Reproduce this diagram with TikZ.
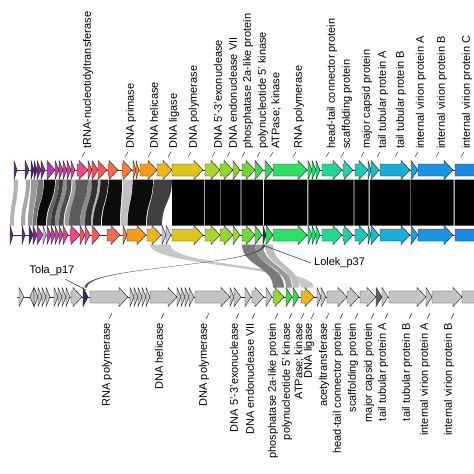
\documentclass[tikz,border=0pt]{standalone}
\usepackage{fontspec}
\setmainfont{Liberation Sans}
\newcommand\lblfont{\fontsize{11}{13}\selectfont}
\tikzset{
  genestyle/.style={draw=black!85, line width=0.45pt, line join=miter},
  toplbl/.style={rotate=90, anchor=west, inner sep=0pt, font=\lblfont, text=black},
  botlbl/.style={rotate=90, anchor=east, inner sep=0pt, font=\lblfont, text=black},
  tickln/.style={draw=black!80, line width=0.5pt},
  backbone/.style={draw=black!80, line width=0.6pt},
  leader/.style={draw=black!75, line width=0.6pt}
}
% gene arrow: x1, x2, yc, fill
\newcommand\gn[4]{%
  \pgfmathparse{(#2>#1) ? max(#1,#2-9) : min(#1,#2+9)}\let\gh\pgfmathresult
  \filldraw[genestyle, fill=#4] (#1,#3-6) -- (\gh,#3-6) -- (\gh,#3-9.5) -- (#2,#3)
     -- (\gh,#3+9.5) -- (\gh,#3+6) -- (#1,#3+6) -- cycle;}
% band: top a b, bottom c d, ytop, ybot, fill
\newcommand\band[7]{%
  \pgfmathsetmacro\ym{(#5+#6)/2}%
  \fill[#7] (#1,#5) .. controls (#1,\ym) and (#3,\ym) .. (#3,#6) -- (#4,#6)
     .. controls (#4,\ym) and (#2,\ym) .. (#2,#5) -- cycle;}
\definecolor{c1}{HTML}{5A2D86}
\definecolor{c2}{HTML}{4B2470}
\definecolor{c2b}{HTML}{7A2C8F}
\definecolor{c3}{HTML}{B73AB5}
\definecolor{c4}{HTML}{C93DAA}
\definecolor{c5}{HTML}{D8409C}
\definecolor{c6}{HTML}{E3448F}
\definecolor{c7}{HTML}{EC4A84}
\definecolor{c8}{HTML}{EF5468}
\definecolor{c9}{HTML}{F15E58}
\definecolor{c10}{HTML}{F26E4A}
\definecolor{c11}{HTML}{F47E3C}
\definecolor{c12}{HTML}{F68C2A}
\definecolor{c12b}{HTML}{F79A1E}
\definecolor{c13}{HTML}{F2B41E}
\definecolor{c14}{HTML}{DCC51E}
\definecolor{c15}{HTML}{AAD52B}
\definecolor{c16}{HTML}{92D730}
\definecolor{c17}{HTML}{72D636}
\definecolor{c18}{HTML}{44D845}
\definecolor{c19}{HTML}{2FDC58}
\definecolor{c20}{HTML}{2DE065}
\definecolor{c21}{HTML}{27DC78}
\definecolor{c22}{HTML}{22D892}
\definecolor{c23}{HTML}{20D0A6}
\definecolor{c24}{HTML}{1EC8B6}
\definecolor{c25}{HTML}{1CBCC8}
\definecolor{c26}{HTML}{1BABD4}
\definecolor{c27}{HTML}{1AA0DA}
\definecolor{c28}{HTML}{1A94DE}
\definecolor{c29}{HTML}{1A88E0}
\definecolor{lav}{HTML}{C4C4DC}
\definecolor{navy}{HTML}{2C2C6C}
\definecolor{gg}{HTML}{C4C4C4}
\definecolor{gd}{HTML}{606060}
\begin{document}
\begin{tikzpicture}[x=1pt,y=-1pt]
\useasboundingbox (0,0) rectangle (474,474);
\fill[white] (0,0) rectangle (474,474);

% ---------- bands row1 -> row2 ----------
\def\ta{179.5}\def\tb{225.5}
\band{14}{18}{10}{14}{\ta}{\tb}{black!30}
\band{26}{30}{21}{25}{\ta}{\tb}{black!35}
\band{31}{37}{28}{32.5}{\ta}{\tb}{black!40}
\band{37.5}{43.5}{33}{36.5}{\ta}{\tb}{black!55}
\band{44}{55}{37}{46}{\ta}{\tb}{black!96}
\band{55.6}{59}{47}{51}{\ta}{\tb}{black!60}
\band{59}{63}{51}{55}{\ta}{\tb}{black!76}
\band{63}{67}{55}{59}{\ta}{\tb}{black!45}
\band{67}{71.5}{59}{63.5}{\ta}{\tb}{black!70}
\band{72.5}{76}{64.5}{69}{\ta}{\tb}{black!38}
\band{76}{88}{69}{80}{\ta}{\tb}{black!64}
\band{88}{92}{80}{85}{\ta}{\tb}{black!45}
\band{92}{98}{85}{91}{\ta}{\tb}{black!80}
\band{98}{100.5}{91}{93}{\ta}{\tb}{black!30}
\band{100.5}{108}{93}{101}{\ta}{\tb}{black!88}
\band{108.6}{122}{102}{120}{\ta}{\tb}{black!95}
\band{123}{132}{121}{127}{\ta}{\tb}{black!25}
\band{132.6}{153}{127.6}{146}{\ta}{\tb}{black!95}
\band{153.6}{172}{147}{162}{\ta}{\tb}{black!75}
\band{172}{203.8}{172}{203.8}{\ta}{\tb}{black}
\band{204.6}{219.8}{204.6}{219.8}{\ta}{\tb}{black}
\band{220.3}{240.6}{220.3}{240.6}{\ta}{\tb}{black}
\band{241.4}{263.2}{241.4}{263.2}{\ta}{\tb}{black}
\band{264.2}{307.3}{264.2}{307.3}{\ta}{\tb}{black}
\band{308.3}{353.6}{308.3}{353.6}{\ta}{\tb}{black}
\band{354.3}{368.6}{354.3}{368.6}{\ta}{\tb}{black}
\band{369.6}{410.6}{369.6}{410.6}{\ta}{\tb}{black}
\band{411.2}{453.6}{411.2}{453.6}{\ta}{\tb}{black}
\band{454.6}{490}{454.6}{490}{\ta}{\tb}{black}

% ---------- bands row2 -> row3 ----------
\def\tc{244.5}\def\td{287.5}
\band{150}{170}{301}{314}{\tc}{\td}{black!22}
\band{242}{255}{273}{284}{\tc}{\td}{black!52}
\band{255}{263}{286}{292}{\tc}{\td}{black!40}
\band{265}{273}{293}{299}{\tc}{\td}{black!26}
\band{263}{265.5}{84.5}{87}{\tc}{\td}{black!70}

% ---------- backbones ----------
\draw[backbone] (14,170) -- (474,170);
\draw[backbone] (10,235) -- (474,235);
\draw[backbone] (17,297) -- (474,297);

% ---------- row 1 ----------
\def\yA{170}
\gn{14}{17}{\yA}{c1}
\gn{25}{29}{\yA}{c1}
\gn{31}{34}{\yA}{c2}
\gn{34}{37}{\yA}{c2}
\gn{37}{41}{\yA}{c2b}
\gn{41}{45}{\yA}{c2b}
\gn{47}{55}{\yA}{c3}
\gn{55}{59}{\yA}{c4}
\gn{59}{63}{\yA}{c4}
\gn{63}{67}{\yA}{c5}
\gn{67}{71}{\yA}{c5}
\gn{71}{75}{\yA}{c6}
\gn{77}{88}{\yA}{c7}
\gn{88}{92}{\yA}{c8}
\gn{92}{98}{\yA}{c8}
\gn{98}{107}{\yA}{c9}
\gn{108}{118}{\yA}{c10}
\gn{122}{132}{\yA}{c11}
\gn{133}{136}{\yA}{c11}
\gn{136}{139}{\yA}{c12}
\gn{140}{157}{\yA}{c12b}
\gn{157}{172}{\yA}{c13}
\gn{172}{203}{\yA}{c14}
\gn{205}{220}{\yA}{c15}
\gn{220}{233}{\yA}{c16}
\gn{233}{240}{\yA}{c16}
\gn{242}{255}{\yA}{c17}
\gn{255}{263}{\yA}{c18}
\gn{265}{273}{\yA}{c19}
\gn{273}{307}{\yA}{c20}
\gn{308}{312}{\yA}{c21}
\gn{312}{316}{\yA}{c21}
\gn{316}{320}{\yA}{c21}
\gn{322}{342}{\yA}{c22}
\gn{343}{353}{\yA}{c23}
\gn{355}{368}{\yA}{c24}
\gn{368}{371}{\yA}{c25}
\gn{371}{379}{\yA}{c25}
\gn{380}{410}{\yA}{c26}
\gn{411}{418}{\yA}{c27}
\gn{418}{453}{\yA}{c28}
\gn{455}{490}{\yA}{c29}

% ---------- row 2 ----------
\def\yB{235}
\gn{10}{13}{\yB}{c1}
\gn{22}{25}{\yB}{c1}
\gn{29}{33}{\yB}{c2}
\gn{33}{37}{\yB}{c2b}
\gn{37}{43}{\yB}{c3}
\gn{43}{46}{\yB}{lav}
\gn{47}{51}{\yB}{c4}
\gn{51}{55}{\yB}{c4}
\gn{55}{59}{\yB}{c5}
\gn{59}{63}{\yB}{c5}
\gn{63}{68}{\yB}{c6}
\gn{70}{80}{\yB}{c7}
\gn{80}{85}{\yB}{c8}
\gn{85}{90}{\yB}{c8}
\gn{92}{100}{\yB}{c9}
\gn{107}{120}{\yB}{c10}
\gn{123}{127}{\yB}{c11}
\gn{127}{146}{\yB}{c12b}
\gn{147}{161}{\yB}{c13}
\gn{162}{166}{\yB}{lav}
\gn{166}{171}{\yB}{lav}
\gn{172}{203}{\yB}{c14}
\gn{205}{220}{\yB}{c15}
\gn{220}{233}{\yB}{c16}
\gn{233}{240}{\yB}{c16}
\gn{242}{255}{\yB}{c17}
\gn{255}{262}{\yB}{c18}
\gn{263}{266}{\yB}{navy}
\gn{266}{273}{\yB}{c19}
\gn{273}{307}{\yB}{c20}
\gn{308}{312}{\yB}{c21}
\gn{312}{316}{\yB}{c21}
\gn{316}{320}{\yB}{c21}
\gn{322}{342}{\yB}{c22}
\gn{343}{353}{\yB}{c23}
\gn{355}{368}{\yB}{c24}
\gn{368}{371}{\yB}{c25}
\gn{371}{379}{\yB}{c25}
\gn{380}{410}{\yB}{c26}
\gn{411}{418}{\yB}{c27}
\gn{418}{453}{\yB}{c28}
\gn{455}{490}{\yB}{c29}

% ---------- row 3 ----------
\def\yC{297}
\gn{19}{24}{\yC}{gg}
\gn{34}{30}{\yC}{gg}
\gn{34}{38}{\yC}{gg}
\gn{38}{42}{\yC}{gg}
\gn{42}{46}{\yC}{gg}
\gn{46}{50}{\yC}{gg}
\gn{54}{58}{\yC}{gg}
\gn{58}{62}{\yC}{gg}
\gn{62}{66}{\yC}{gg}
\gn{66}{70}{\yC}{gg}
\gn{71}{82}{\yC}{gg}
\gn{83}{88}{\yC}{navy}
\gn{90}{128}{\yC}{gg}
\gn{130}{134}{\yC}{gg}
\gn{134}{138}{\yC}{gg}
\gn{138}{142}{\yC}{gg}
\gn{142}{146}{\yC}{gg}
\gn{146}{150}{\yC}{gg}
\gn{150}{177}{\yC}{gg}
\gn{177}{181}{\yC}{gg}
\gn{181}{185}{\yC}{gg}
\gn{185}{189}{\yC}{gg}
\gn{189}{194}{\yC}{gg}
\gn{195}{230}{\yC}{gg}
\gn{230}{234}{\yC}{gg}
\gn{234}{241}{\yC}{gg}
\gn{245}{251}{\yC}{gg}
\gn{252}{264}{\yC}{gg}
\gn{266}{272}{\yC}{gg}
\gn{273}{284}{\yC}{c16}
\gn{286}{292}{\yC}{c18}
\gn{293}{299}{\yC}{c19}
\gn{301}{314}{\yC}{c13}
\gn{317}{321}{\yC}{gg}
\gn{321}{326}{\yC}{gg}
\gn{327}{347}{\yC}{gg}
\gn{347}{359}{\yC}{gg}
\gn{360}{376}{\yC}{gg}
\gn{376}{382}{\yC}{gd}
\gn{382}{388}{\yC}{gg}
\gn{389}{426}{\yC}{gg}
\gn{426}{432}{\yC}{gg}
\gn{432}{462}{\yC}{gg}
\gn{462}{490}{\yC}{gg}

% ---------- top labels ----------
\foreach \n/\x/\t in {
  t1/88/tRNA-nucleotidyltransferase,
  t2/131/DNA primase,
  t3/154/DNA helicase,
  t4/174/DNA ligase,
  t5/194/DNA polymerase,
  t6/218/DNA 5'-3'exonuclease,
  t7/233/DNA endonuclease VII,
  t8/248/phosphatase 2a-like protein,
  t9/263/polynucleotide 5' kinase,
  t10/276/{ATPase; kinase},
  t11/299/RNA polymerase,
  t12/332/head-tail connector protein,
  t13/347/scaffolding protein,
  t14/367/major capsid protein,
  t15/383/tail tubular protein A,
  t16/401/tail tubular protein B,
  t17/421/internal virion protein A,
  t18/442/internal virion protein B,
  t19/467/internal virion protein C}{
  \node[toplbl] (\n) at (\x,149) {\t};
  \draw[tickln] (\n.west) ++(-3,3) -- ++(-3,5);
}

% ---------- bottom labels ----------
\foreach \n/\x/\t in {
  b1/107/RNA polymerase,
  b2/159/DNA helicase,
  b3/204/DNA polymerase,
  b4/234/DNA 5'-3'exonuclease,
  b5/250/DNA endonuclease VII,
  b6/273/phosphatase 2a-like protein,
  b7/287/polynucleotide 5' kinase,
  b8/299/{ATPase; kinase},
  b9/309/DNA ligase,
  b10/324/acetyltransferase,
  b11/338/head-tail connector protein,
  b12/353/scaffolding protein,
  b13/369/major capsid protein,
  b14/383/tail tubular protein A,
  b15/407/tail tubular protein B,
  b16/425/internal virion protein A,
  b17/449/internal virion protein B}{
  \node[botlbl] (\n) at (\x,323) {\t};
  \draw[tickln] (\n.east) ++(2,-4) -- ++(3,-6);
}

% ---------- gene callouts ----------
\coordinate (tolagene) at (86,290);
\coordinate (lolekgene) at (265,246);
\node[inner sep=0pt, font=\lblfont] (tola) at (52,271) {Tola\_p17};
\node[inner sep=0pt, font=\lblfont, anchor=west] (lolek) at (314,263) {Lolek\_p37};
\draw[leader] (tola.south east) ++(-9,3) -- (tolagene);
\draw[leader] (lolek.west) ++(-3,0) -- (lolekgene);
\end{tikzpicture}
\end{document}
